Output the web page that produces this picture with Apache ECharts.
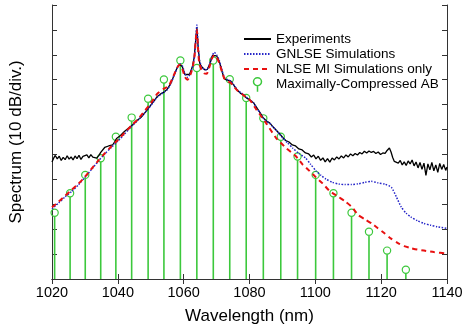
<!DOCTYPE html>
<html>
<head>
<meta charset="utf-8">
<script src="https://cdn.jsdelivr.net/npm/echarts@6/dist/echarts.min.js"></script>
<style>html,body{margin:0;padding:0;background:#fff}#c{width:474px;height:330px}</style>
</head>
<body>
<div id="c"></div>
<script>
// Spectrum level in dB (10 dB per division), wavelength in nm
var xTicks = [1020, 1040, 1060, 1080, 1100, 1120, 1140];

var experiments = [
[1020,47.0],[1020.5,48.5],[1021,49.6],[1021.6,48.2],[1022.2,49.3],[1022.8,47.6],[1023.4,48.8],[1024,47.9],[1024.6,49.5],[1025.2,48.1],
[1025.8,49.0],[1026.4,47.8],[1027,49.4],[1027.6,48.3],[1028.2,49.7],[1028.8,48.0],[1029.4,49.2],[1030,48.4],[1030.6,49.8],[1031.2,48.6],
[1031.8,49.9],[1032.4,48.9],[1033,49.6],[1033.6,48.5],[1034.2,49.5],[1034.8,50.8],[1035.4,51.4],[1036,52.8],[1036.6,52.0],[1037.2,53.4],
[1037.8,52.6],[1038.4,53.8],[1039,55.0],[1039.6,56.4],[1040.2,56.0],[1040.8,57.6],[1041.4,58.0],[1042,59.2],[1042.6,59.6],[1043.2,60.5],
[1044,61.3],[1045,62.5],[1046,63.8],[1047,64.8],[1048,66.4],[1049,68.0],[1050,69.8],[1051,71.5],[1052,73.3],[1053,74.3],
[1054,75.0],[1055,76.2],[1056,78.3],[1057,81.5],[1058,84.8],[1058.8,86.2],[1059.6,85.2],[1060.4,82.0],[1061,81.2],[1061.8,82.2],
[1062.6,85.0],[1063.2,89.0],[1063.6,95.0],[1064,101.0],[1064.4,93.0],[1064.9,86.5],[1065.6,85.0],[1066.4,84.0],[1067.2,84.2],[1068,86.5],
[1068.8,89.8],[1069.4,90.6],[1070,89.6],[1070.8,87.5],[1071.5,84.0],[1072.3,80.5],[1073.2,79.8],[1074.2,79.6],[1075.2,77.8],[1076.2,76.0],
[1077.2,74.6],[1078.2,73.8],[1079.2,72.6],[1080.2,71.8],[1081.2,70.8],[1082.2,68.8],[1083.2,66.8],[1084.2,64.6],[1085.2,63.4],[1086.2,62.6],
[1087.2,61.0],[1088.2,59.6],[1089.2,58.2],[1090.1,56.8],[1091,55.6],[1092,55.0],[1093,53.8],[1094,53.4],[1095,52.2],[1096,51.8],
[1097,50.6],[1098,50.2],[1098.8,49.0],[1099.5,49.8],[1100.2,48.2],[1100.9,49.3],[1101.6,47.6],[1102.3,48.6],[1103,47.0],[1103.7,48.3],
[1104.4,46.9],[1105.1,48.6],[1105.8,47.8],[1106.5,49.0],[1107.2,48.2],[1107.9,49.4],[1108.6,48.6],[1109.3,49.8],[1110,49.0],[1110.7,50.2],
[1111.4,49.5],[1112.1,50.4],[1112.8,49.8],[1113.5,50.8],[1114.2,50.2],[1114.9,51.3],[1115.6,50.6],[1116.3,51.4],[1117,50.8],[1117.7,51.2],
[1118.4,50.4],[1119.1,51.0],[1119.8,50.0],[1120.5,50.6],[1121.2,50.4],[1121.8,51.6],[1122.5,52.6],[1123,51.0],[1123.5,48.8],[1124,47.2],
[1124.6,48.0],[1125.2,46.5],[1125.8,47.6],[1126.4,45.8],[1127,47.0],[1127.6,45.6],[1128.2,47.4],[1128.8,46.2],[1129.4,47.8],[1130,45.4],
[1130.6,47.0],[1131.2,44.6],[1131.8,46.8],[1132.4,44.0],[1133,46.5],[1133.6,41.6],[1134.2,46.2],[1134.8,43.8],[1135.4,46.8],[1136,43.4],
[1136.6,45.8],[1137.2,42.8],[1137.8,46.4],[1138.4,44.0],[1139,46.0],[1139.6,43.6],[1140,45.0]
];

var gnlse = [
[1020,28.2],[1022,30.5],[1024,33.0],[1026,35.2],[1028,37.8],[1030,40.8],[1032,44.0],[1034,47.2],[1036,50.2],[1038,52.8],
[1040,55.3],[1042,58.2],[1044,61.0],[1046,63.6],[1048,66.4],[1050,69.6],[1052,73.0],[1054,75.0],[1055,76.0],[1056,78.0],
[1057,81.5],[1058,84.6],[1058.8,86.4],[1059.6,85.6],[1060.4,82.4],[1061.2,81.0],[1062,82.4],[1062.8,85.6],[1063.3,89.5],[1063.7,96.0],
[1064,102.0],[1064.3,96.0],[1064.7,88.5],[1065.4,85.4],[1066.2,84.2],[1067,84.0],[1067.8,86.0],[1068.6,89.4],[1069.3,91.0],[1070,90.0],
[1070.8,87.8],[1071.6,84.2],[1072.4,80.8],[1073.4,80.0],[1074.4,79.4],[1075.4,77.6],[1076.4,75.8],[1077.4,74.8],[1078.2,74.0],[1079.4,72.6],
[1080.4,71.6],[1081.2,70.8],[1082.2,68.6],[1083.2,66.6],[1084.2,64.6],[1085.2,63.2],[1086.2,62.4],[1087.2,61.0],[1088.2,59.6],[1089.2,58.0],
[1090.1,56.6],[1091.6,54.6],[1093.1,52.6],[1095,50.4],[1097,48.6],[1098.6,46.0],[1100.2,43.4],[1101.7,41.6],[1103.2,40.1],[1105.2,38.8],
[1107.2,38.1],[1109,37.9],[1111,37.9],[1113,38.2],[1115.1,38.8],[1117,39.2],[1119,38.6],[1121.1,38.1],[1123.1,36.8],[1124.6,33.0],
[1126.1,28.9],[1127.6,26.4],[1129,24.9],[1131,23.4],[1133,22.3],[1135,21.6],[1137,21.0],[1140,20.3]
];

var nlseMI = [
[1020,28.8],[1022,31.0],[1024,33.4],[1026,35.8],[1028,38.2],[1030,41.0],[1032,44.2],[1034,47.4],[1036,50.4],[1038,53.2],
[1040,55.8],[1042,58.6],[1044,61.4],[1046,64.0],[1048,67.2],[1050,70.6],[1052,74.4],[1054,76.4],[1055.5,77.6],[1057,81.8],
[1058,84.8],[1058.8,86.0],[1059.6,84.4],[1060.4,81.0],[1061.2,80.0],[1062,81.8],[1062.8,85.4],[1063.3,89.5],[1063.7,96.5],[1064,100.0],
[1064.3,94.0],[1064.7,87.0],[1065.4,84.0],[1066.2,82.6],[1067,82.4],[1067.8,85.0],[1068.6,88.6],[1069.3,89.8],[1070,89.0],[1070.8,86.8],
[1071.6,83.4],[1072.4,80.4],[1073.4,79.4],[1074.4,78.6],[1075.4,77.0],[1076.4,75.6],[1078,74.0],[1080.2,71.7],[1082.1,68.0],[1085.1,62.5],
[1088.1,56.6],[1091.1,52.6],[1094.1,49.3],[1096.1,46.0],[1097.2,44.7],[1100.2,40.8],[1102.2,38.4],[1104.2,35.5],[1107.2,32.8],[1109,31.2],
[1111.1,28.9],[1113.1,25.6],[1115,24.0],[1117.1,22.3],[1119,20.4],[1121.1,18.3],[1123,16.2],[1125.1,14.4],[1127,13.2],[1129,12.4],
[1131,11.8],[1133,11.4],[1136,10.8],[1140,10.2]
];

var abWavelengths = [1020.8,1025.5,1030.1,1034.8,1039.4,1044.2,1049.2,1054.0,1059.0,1064.0,1069.0,1074.0,1079.0,1084.2,1089.5,1094.6,1100.1,1105.5,1111.0,1116.3,1121.8,1127.5];
var abLevels = [26.6,34.4,41.8,48.5,57.1,64.8,72.4,80.1,87.7,84.7,87.7,80.2,72.7,64.5,57.1,49.2,41.8,34.4,26.6,19.0,11.4,3.7];

var green = '#3cc83c';
var abData = abWavelengths.map(function (w, i) { return [w, abLevels[i]]; });

var chart = echarts.init(document.getElementById('c'), null, {renderer: 'canvas'});
var axisLine = {show: true, lineStyle: {color: '#333', width: 1}};
var tick = {show: true, inside: true, length: 5, lineStyle: {color: '#333', width: 1}};
var font = 'Liberation Sans, Arial, sans-serif';
chart.setOption({
  animation: false,
  backgroundColor: '#fff',
  grid: {left: 45, right: 27, top: 5, bottom: 47},
  xAxis: [{
    type: 'value', min: 1020, max: 1140, interval: 20, position: 'bottom',
    axisLine: axisLine, axisTick: tick, splitLine: {show: false},
    axisLabel: {color: '#000', fontSize: 14.5, fontFamily: font, margin: 6,
      formatter: function (v) { return String(v); }},
    name: 'Wavelength (nm)', nameLocation: 'middle', nameGap: 29,
    nameTextStyle: {color: '#000', fontSize: 17, fontFamily: font}
  }, {
    type: 'value', min: 1020, max: 1140, interval: 20, position: 'top',
    axisLine: axisLine, axisTick: tick, splitLine: {show: false}, axisLabel: {show: false}
  }],
  yAxis: [{
    type: 'value', min: 0, max: 110, interval: 10, position: 'left',
    axisLine: axisLine, axisTick: tick, splitLine: {show: false}, axisLabel: {show: false},
    name: 'Spectrum (10 dB/div.)', nameLocation: 'middle', nameGap: 27,
    nameTextStyle: {color: '#000', fontSize: 17, fontFamily: font}
  }, {
    type: 'value', min: 0, max: 110, interval: 10, position: 'right',
    axisLine: axisLine, axisTick: tick, splitLine: {show: false}, axisLabel: {show: false}
  }],
  legend: {
    orient: 'vertical', left: 238, top: 27, itemGap: 1, itemWidth: 27, itemHeight: 14,
    itemStyle: {opacity: 0},
    textStyle: {color: '#000', fontSize: 13.5, fontFamily: font},
    data: [
      {name: 'Experiments'},
      {name: 'GNLSE Simulations'},
      {name: 'NLSE MI Simulations only'},
      {name: 'Maximally-Compressed AB', icon: 'path://M5,1 A4,4 0 1,1 4.99,1 Z M5,9 L5,15',
        itemStyle: {opacity: 1, color: 'rgba(0,0,0,0)', borderColor: green, borderWidth: 1.5}}
    ]
  },
  series: [
    {
      name: 'Maximally-Compressed AB', type: 'custom', data: abData, z: 1,
      itemStyle: {color: green},
      renderItem: function (params, api) {
        var w = api.value(0), v = api.value(1);
        var p0 = api.coord([w, 0]);
        var p1 = api.coord([w, v]);
        var r = 3.6;
        return {type: 'group', children: [
          {type: 'line', shape: {x1: p0[0], y1: p0[1], x2: p1[0], y2: p1[1] + r}, style: {stroke: green, lineWidth: 1.6}},
          {type: 'circle', shape: {cx: p1[0], cy: p1[1], r: r}, style: {fill: 'none', stroke: green, lineWidth: 1.2}}
        ]};
      }
    },
    {
      name: 'Experiments', type: 'line', data: experiments, showSymbol: false, symbol: 'none', z: 3,
      lineStyle: {color: '#000', width: 1.3}, itemStyle: {color: '#000'}
    },
    {
      name: 'GNLSE Simulations', type: 'line', data: gnlse, showSymbol: false, symbol: 'none', z: 4, smooth: 0.2,
      lineStyle: {color: '#2626c8', width: 1.5, type: [1.5, 1.5]}, itemStyle: {color: '#2626c8'}
    },
    {
      name: 'NLSE MI Simulations only', type: 'line', data: nlseMI, showSymbol: false, symbol: 'none', z: 5, smooth: 0.2,
      lineStyle: {color: '#e81010', width: 2, type: [5, 4]}, itemStyle: {color: '#e81010'}
    }
  ]
});
</script>
</body>
</html>
